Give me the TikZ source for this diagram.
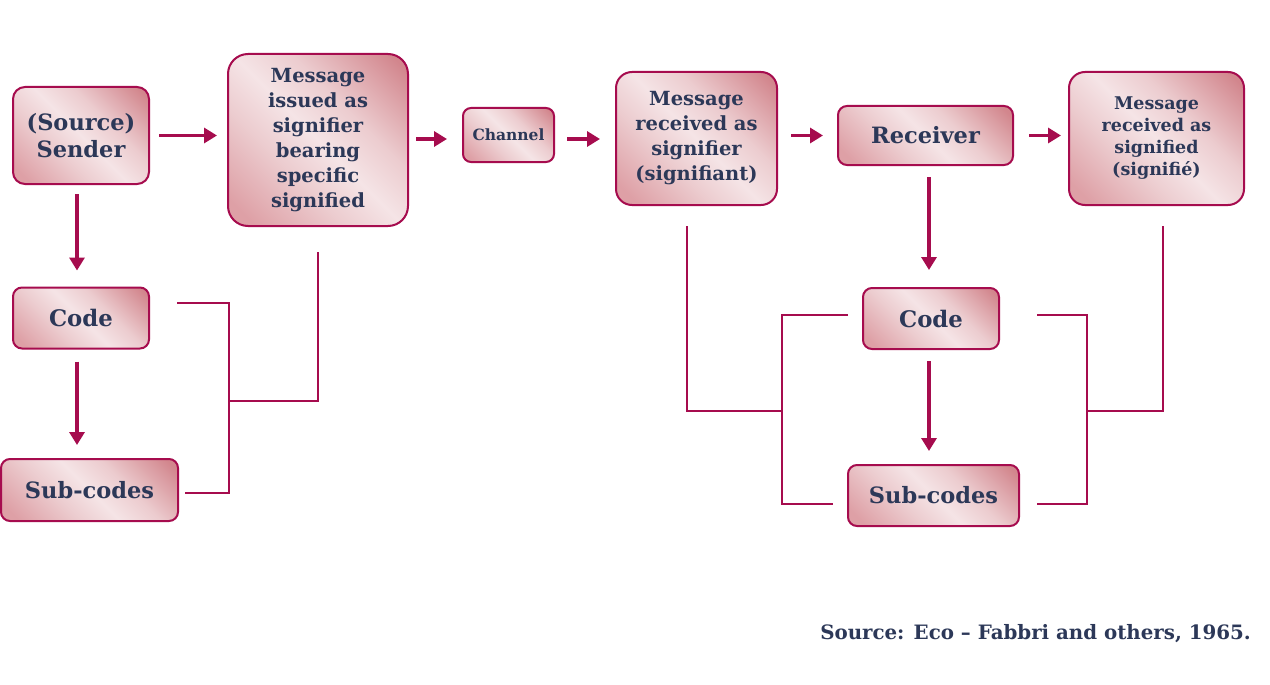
\documentclass[tikz,border=0pt]{standalone}
\usepackage{fontspec}
\setmainfont{DejaVu Serif}
\usetikzlibrary{arrows.meta}
\definecolor{bord}{RGB}{166,12,78}
\definecolor{navy}{RGB}{44,56,88}
\definecolor{pkD}{RGB}{210,134,141}
\definecolor{pkE}{RGB}{222,160,166}
\definecolor{pkL}{RGB}{245,228,230}
\definecolor{pkM}{RGB}{236,204,207}
\pgfdeclarehorizontalshading{boxsh}{100bp}{color(0bp)=(pkE); color(20bp)=(pkE); color(38bp)=(pkM); color(50bp)=(pkL); color(62bp)=(pkM); color(82bp)=(pkD); color(100bp)=(pkD)}
\newcommand\fsz[2]{\fontsize{#1}{#2}\selectfont\bfseries}
\tikzset{
  box/.style={draw=bord, line width=2pt, rounded corners=9pt, shading=boxsh, shading angle=45,
    text=navy, align=center, inner sep=0pt, anchor=center},
  arr/.style={draw=bord, line width=3.4pt, -{Triangle[length=13pt,width=15pt]}},
  link/.style={draw=bord, line width=1.6pt},
}
\begin{document}
\begin{tikzpicture}[x=1pt,y=-1pt]
\useasboundingbox[fill=white] (0,0) rectangle (1270,685);
% boxes
\node[box, minimum width=136pt, minimum height=97pt, rounded corners=12pt, font=\fsz{22.5}{27}] (sender) at (81,135.5) {(Source)\\Sender};
\node[box, minimum width=180pt, minimum height=172pt, rounded corners=20pt, font=\fsz{19.5}{25}] (msg1) at (318,140) {Message\\issued as\\signifier\\bearing\\specific\\signified};
\node[box, minimum width=91pt, minimum height=54pt, rounded corners=8pt, font=\fsz{15.5}{18}] (channel) at (508.5,135) {Channel};
\node[box, minimum width=161pt, minimum height=133pt, rounded corners=16pt, font=\fsz{19.5}{25}] (msg2) at (696.5,138.5) {Message\\received as\\signifier\\(signifiant)};
\node[box, minimum width=175pt, minimum height=59pt, rounded corners=9pt, font=\fsz{22.5}{26}] (receiver) at (925.5,135.5) {Receiver};
\node[box, minimum width=175pt, minimum height=133pt, rounded corners=16pt, font=\fsz{17.5}{22}] (msg3) at (1156.5,138.5) {Message\\received as\\signified\\(signifié)};
\node[box, minimum width=136pt, minimum height=61pt, font=\fsz{22.8}{26}] (code1) at (81,318) {Code};
\node[box, minimum width=177pt, minimum height=62pt, font=\fsz{22.5}{26}] (sub1) at (89.5,490) {Sub-codes};
\node[box, minimum width=136pt, minimum height=61pt, font=\fsz{22.8}{26}] (code2) at (931,318.5) {Code};
\node[box, minimum width=171pt, minimum height=61pt, font=\fsz{22.5}{26}] (sub2) at (933.5,495.5) {Sub-codes};
% arrows
\draw[arr, shorten <=9pt, shorten >=10pt] (sender.east) -- (sender.east -| msg1.west);
\draw[arr, shorten <=7pt, shorten >=15pt] ([yshift=-4pt]msg1.east |- channel.west) -- ([yshift=-4pt]channel.west);
\draw[arr, shorten <=12pt, shorten >=15pt] ([yshift=-4pt]channel.east) -- ([yshift=-4pt]channel.east -| msg2.west);
\draw[arr, shorten <=13pt, shorten >=14pt] (msg2.east |- receiver.west) -- (receiver.west);
\draw[arr, shorten <=15pt, shorten >=7pt] (receiver.east) -- (receiver.east -| msg3.west);
\draw[arr, shorten <=9pt, shorten >=16pt] ([xshift=-4pt]sender.south) -- ([xshift=-4pt]code1.north);
\draw[arr, shorten <=12pt, shorten >=13pt] ([xshift=-4pt]code1.south) -- ([xshift=-4pt]code1.south |- sub1.north);
\draw[arr, shorten <=11pt, shorten >=17pt] ([xshift=3.5pt]receiver.south) -- ([xshift=-2pt]code2.north);
\draw[arr, shorten <=11pt, shorten >=13pt] ([xshift=-2pt]code2.south) -- ([xshift=-2pt]code2.south |- sub2.north);
% link brackets
\coordinate (la) at (177,303);
\coordinate (lb) at (185,493);
\coordinate (lj) at (229,401);
\coordinate (lt) at (318,252);
\draw[link] (la) -| (lj) |- (lb);
\draw[link] (lj) -| (lt);
\coordinate (ma) at (848,315);
\coordinate (mb) at (833,504);
\coordinate (mj) at (782,411);
\coordinate (mt) at (687,226);
\draw[link] (ma) -| (mj) |- (mb);
\draw[link] (mj) -| (mt);
\coordinate (ra) at (1037,315);
\coordinate (rb) at (1037,504);
\coordinate (rj) at (1087,411);
\coordinate (rt) at (1163,226);
\draw[link] (ra) -| (rj) |- (rb);
\draw[link] (rj) -| (rt);
% source
\node[anchor=base east, text=navy, font=\fsz{19.8}{22}, inner sep=0pt] (src) at (1251,639) {Source: Eco – Fabbri and others, 1965.};
\end{tikzpicture}
\end{document}
